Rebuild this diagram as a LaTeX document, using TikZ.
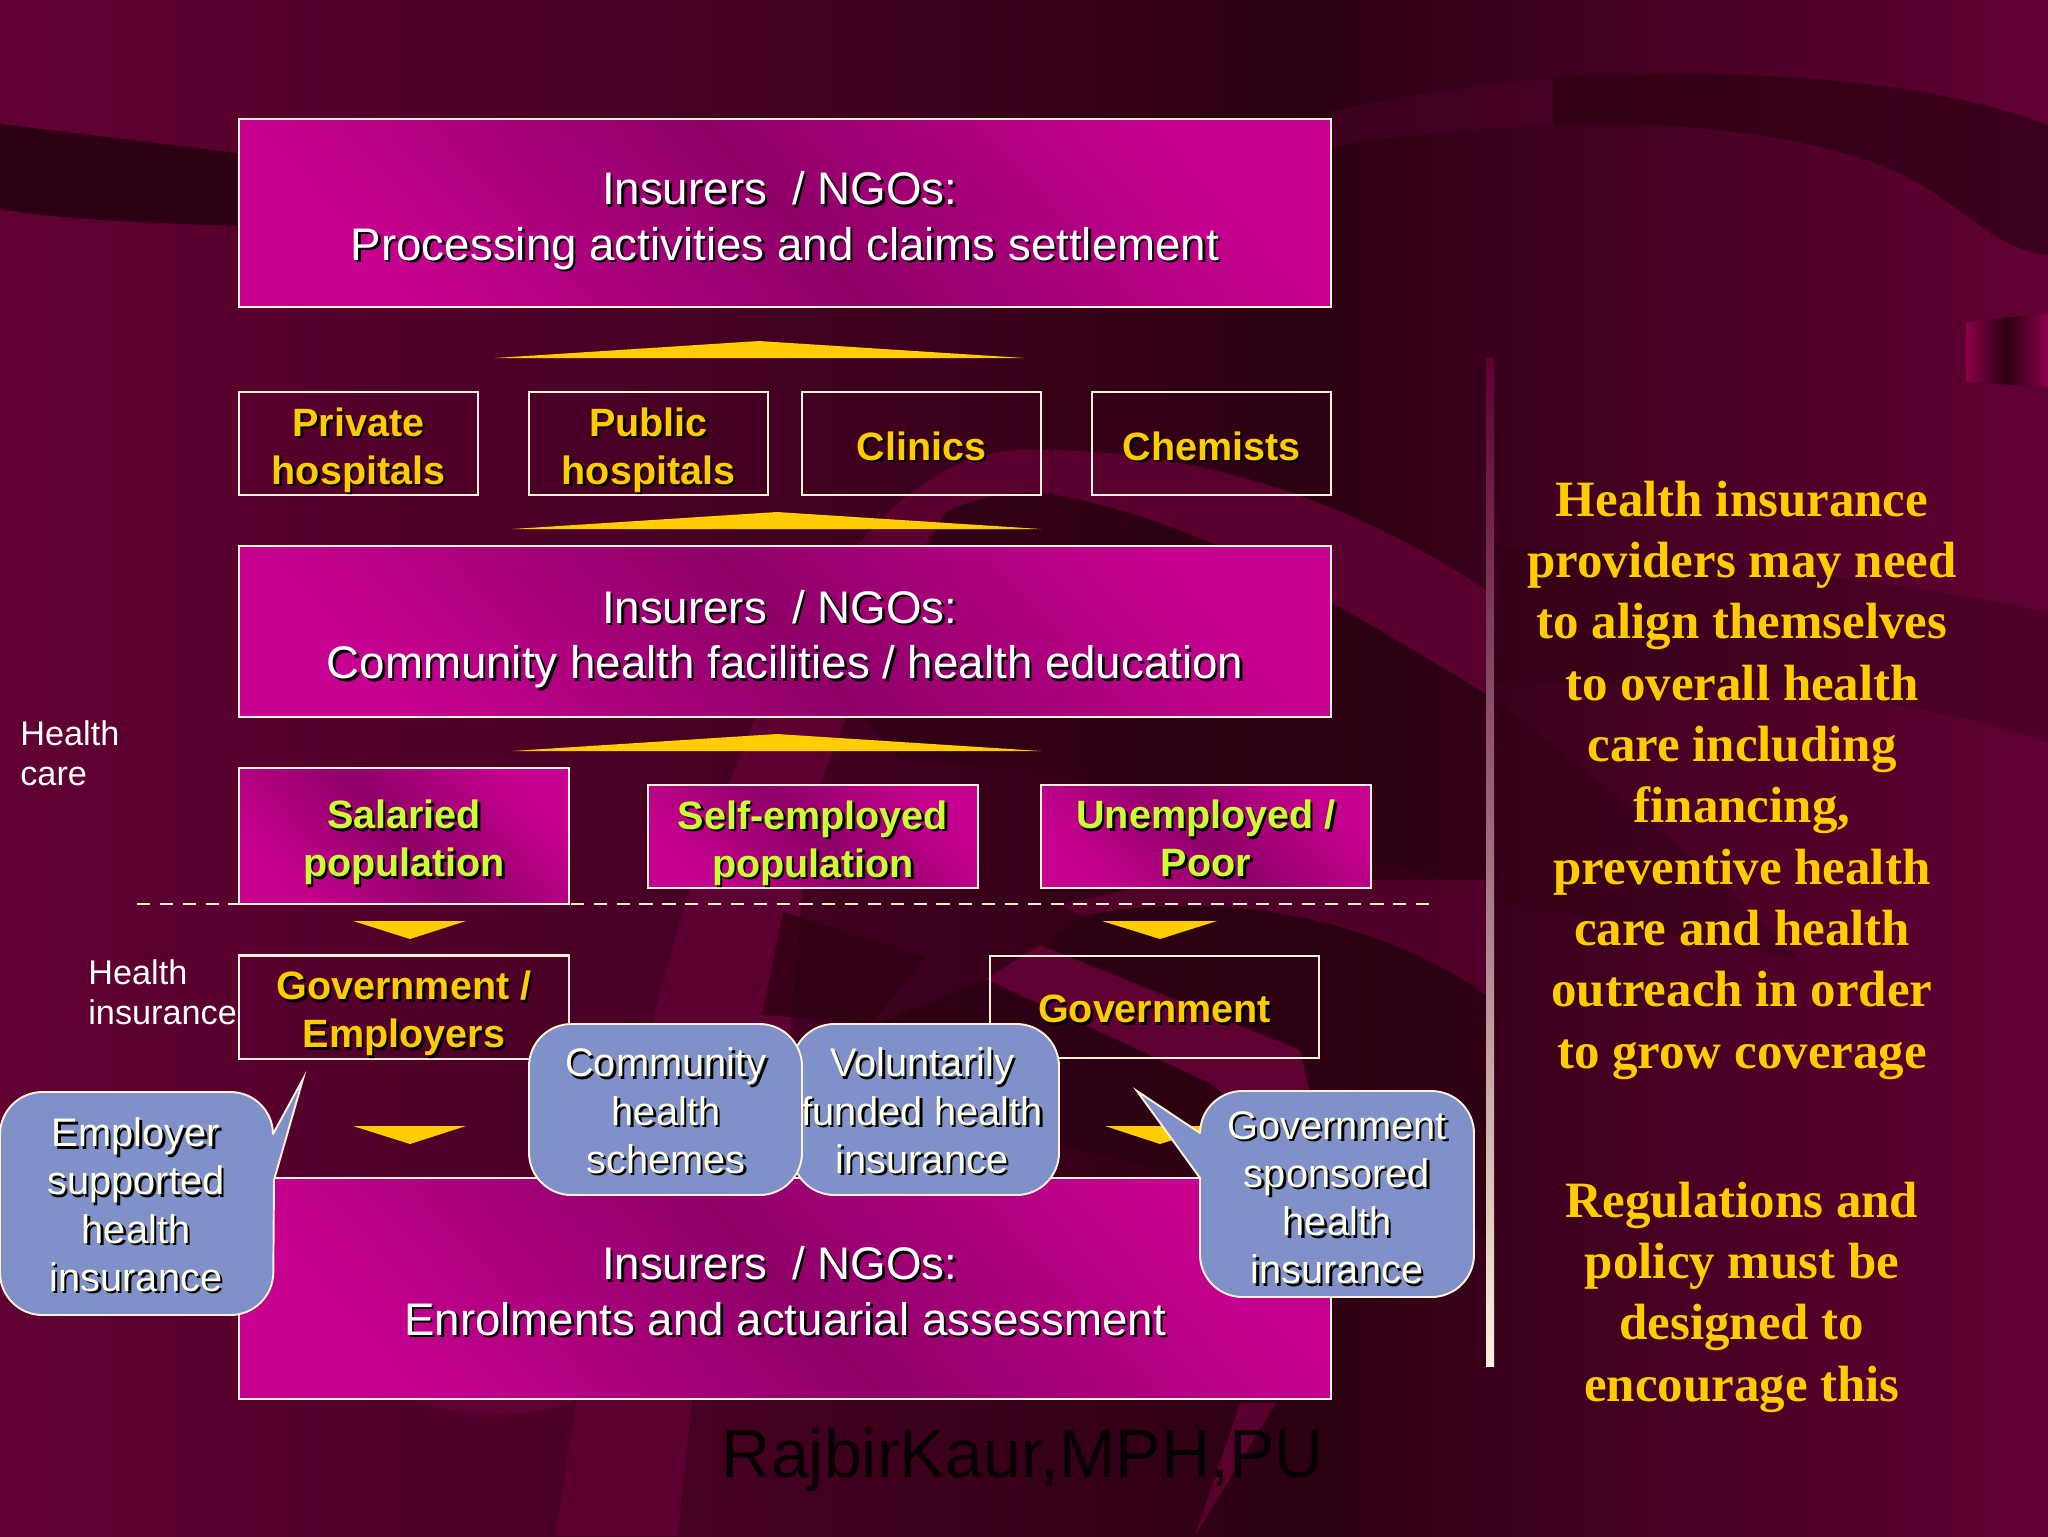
\documentclass[tikz,border=0pt]{standalone}
\usepackage{fontspec}
\setmainfont{Liberation Sans}
\newfontfamily\serifcol{Liberation Serif}
\usepackage{tikz}
\definecolor{bgred}{HTML}{620034}
\definecolor{bgdark}{HTML}{2C0012}
\definecolor{bandred}{HTML}{5E0032}
\definecolor{flagred}{HTML}{8A0048}
\definecolor{barmid}{HTML}{A07080}
\definecolor{boxbright}{HTML}{C6008F}
\definecolor{boxdark}{HTML}{8E0068}
\definecolor{edgecream}{HTML}{FFF2D8}
\definecolor{amber}{HTML}{FFCC00}
\definecolor{limegreen}{HTML}{CCFF33}
\definecolor{bubbleblue}{HTML}{8090C8}
\pgfdeclarehorizontalshading{slidebg}{100bp}{color(0bp)=(bgred); color(25bp)=(bgred); color(57bp)=(bgdark); color(75bp)=(bgred); color(100bp)=(bgred)}
\newcommand{\shtxt}[1]{\leavevmode\rlap{\kern1.4pt\raisebox{-1.4pt}{\color{black}#1}}#1}
\newcommand{\shfirst}[2][25.3pt]{\rule{0pt}{#1}\shtxt{#2}}
\tikzstyle{bigbox} = [draw=edgecream,line width=1.3pt,left color=boxbright,right color=boxbright,middle color=boxdark,shading angle=-48,minimum width=21.84cm,align=center,text=white,font=\fontsize{26}{31.8}\selectfont,inner sep=0pt]
\tikzstyle{popbox} = [bigbox,text=limegreen,font=\bfseries\fontsize{22.5}{27.4}\selectfont,minimum width=6.6cm]
\tikzstyle{darkbox} = [draw=edgecream,line width=1.3pt,align=center,text=amber,font=\bfseries\fontsize{22.5}{27.4}\selectfont,inner sep=0pt]
\tikzstyle{bubble} = [draw=edgecream,line width=1.1pt,fill=bubbleblue]
\tikzstyle{bubbletext} = [align=center,text=white!90!yellow,font=\fontsize{22.7}{27.4}\selectfont,inner sep=0pt]
\tikzstyle{sidelabel} = [align=left,text=white,font=\fontsize{19.5}{23}\selectfont,inner sep=0pt]
\tikzstyle{yellowtip} = [fill=amber]
\tikzstyle{sidetext} = [align=center,text=amber,font=\serifcol\bfseries\fontsize{29}{34.9}\selectfont,inner sep=0pt]

\begin{document}
\begin{tikzpicture}[x=0.02cm,y=-0.02cm]
	\useasboundingbox (0,0) rectangle (2048,1536);
	% background
	\shade[shading=slidebg] (0,0) rectangle (2048,1536);
	\fill[bgdark] (0,124)--(237,153)--(237,226) .. controls (120,222) and (50,218) .. (0,209)--cycle;
	\fill[bandred,opacity=.3] (1331,112) .. controls (1400,95) and (1480,85) .. (1553,78)--(1553,125) .. controls (1480,128) and (1400,135) .. (1331,147)--cycle;
	\fill[bgdark,opacity=.7] (1553,78) .. controls (1700,70) and (1900,70) .. (2048,125)--(2048,255) .. controls (1990,250) and (1950,190) .. (1880,165) .. controls (1800,135) and (1680,120) .. (1553,125)--cycle;
	\fill[bandred,opacity=.9] (556,1536)--(678,1536) .. controls (700,1300) and (730,1100) .. (790,1040) .. controls (800,900) and (810,800) .. (830,760) .. controls (860,680) and (900,580) .. (946,512) .. controls (980,495) and (1020,490) .. (1050,494) .. controls (1200,520) and (1331,600) .. (1486,694)--(1486,590) .. controls (1350,500) and (1200,450) .. (1040,450) .. controls (900,440) and (800,600) .. (730,780) .. controls (640,1000) and (590,1300) .. (556,1536)--cycle;
	\fill[bandred] (415,1399) .. controls (460,1420) and (530,1420) .. (578,1399)--cycle;
	\fill[bgdark,opacity=.6] (946,512) .. controls (980,495) and (1020,490) .. (1050,494) .. controls (1200,520) and (1331,600) .. (1486,694)--(1486,890)--(1041,770)--(900,760)--(850,700)--cycle;
	\fill[bandred,opacity=.7] (1060,905)--(1172,880)--(1486,880)--(1486,995) .. controls (1350,900) and (1180,895) .. (1082,916)--cycle;
	\fill[bgdark,opacity=.7] (1082,916) .. controls (1180,895) and (1350,900) .. (1486,995)--(1486,1240) .. controls (1420,1150) and (1350,1080) .. (1300,1060)--(1040,950)--cycle;
	\fill[bgdark,opacity=.7] (783,912)--(925,957)--(872,1023)--(762,1015)--cycle;
	\fill[bgdark,opacity=.8] (986,979)--(878,1023)--(860,1100)--(1200,1178)--(1210,1083)--cycle;
	\fill[bandred] (1040,945)--(1300,1050)--(1330,1180)--(1210,1083)--(986,979)--cycle;
	\fill[bandred,opacity=.9] (1240,1403)--(1276,1403)--(1195,1536)--cycle;
	\fill[bgdark,opacity=.35] (1494,545) .. controls (1700,560) and (1900,580) .. (2048,612)--(2048,743) .. controls (1900,690) and (1700,680) .. (1494,683)--cycle;
	\fill[bgdark,opacity=.35] (1494,700) .. controls (1600,780) and (1700,860) .. (1800,960)--(1494,900)--cycle;
	\node[font=\fontsize{38.8}{44}\selectfont,text=black,opacity=.85,inner sep=0pt] (credit) at (1023,1460) {RajbirKaur,MPH,PU};
	% side decoration
	\shade[top color=bandred,bottom color=edgecream,middle color=barmid] (1486,358) rectangle (1494,1366);
	\shade[left color=flagred,right color=flagred,middle color=bgdark] (1966,322)--(2048,313)--(2048,387)--(1966,382)--cycle;
	% dashed split
	\coordinate (splitL) at (137,904);
	\coordinate (splitR) at (1438,904);
	\draw[edgecream!85!pink,line width=.9pt,dash pattern=on 7.5pt off 5.5pt] (splitL)--(splitR);
	% yellow arrows
	\fill[yellowtip] (495,358)--(759,341)--(1024,358)--cycle;
	\fill[yellowtip] (512,529)--(777,512)--(1041,529)--cycle;
	\fill[yellowtip] (512,751)--(777,734)--(1041,751)--cycle;
	\fill[yellowtip] (353,921)--(466,921)--(410,939)--cycle;
	\fill[yellowtip] (1102,921)--(1217,921)--(1160,939)--cycle;
	\fill[yellowtip] (353,1126)--(466,1126)--(410,1144)--cycle;
	\fill[yellowtip] (1105,1126)--(1217,1126)--(1160,1144)--cycle;
	% boxes
	\node[bigbox,minimum height=3.76cm] (topinsurers) at (785,213) {\shfirst[29pt]{Insurers\ \ / NGOs:\kern6pt}\\\shtxt{Processing activities and claims settlement}};
	\node[darkbox,minimum width=4.78cm,minimum height=2.06cm] (private) at (358.5,443.5) {\shfirst{Private}\\\shtxt{hospitals}};
	\node[darkbox,minimum width=4.78cm,minimum height=2.06cm] (public) at (648.5,443.5) {\shfirst{Public}\\\shtxt{hospitals}};
	\node[darkbox,minimum width=4.78cm,minimum height=2.06cm] (clinics) at (921.5,443.5) {\shfirst[21pt]{Clinics}};
	\node[darkbox,minimum width=4.78cm,minimum height=2.06cm] (chemists) at (1211.5,443.5) {\shfirst[21pt]{Chemists}};
	\node[bigbox,minimum height=3.42cm] (midinsurers) at (785,631.5) {\shfirst[29pt]{Insurers\ \ / NGOs:\kern6pt}\\\shtxt{Community health facilities / health education}};
	\node[popbox,minimum height=2.72cm] (salaried) at (404,836) {\shfirst{Salaried}\\\shtxt{population}};
	\node[popbox,minimum height=2.06cm] (selfemp) at (813,836.5) {\shfirst{Self-employed}\\\shtxt{population}};
	\node[popbox,minimum height=2.06cm] (unemp) at (1206,836.5) {\shfirst[20pt]{Unemployed /}\\\shtxt{Poor}};
	\node[darkbox,minimum width=6.6cm,minimum height=2.04cm] (govemp) at (404,1007) {\shfirst{Government /}\\\shtxt{Employers}};
	\node[darkbox,minimum width=6.58cm,minimum height=2.04cm] (gov) at (1154.5,1007) {\shfirst[19.5pt]{Government}};
	\node[bigbox,minimum height=4.42cm] (lowinsurers) at (785,1288.5) {\shfirst[23.3pt]{Insurers\ \ / NGOs:\kern6pt}\\\shtxt{Enrolments and actuarial assessment}};
	% side labels
	\node[sidelabel,anchor=west] (carelabel) at (20,753) {Health\\care};
	\node[sidelabel,anchor=west] (inslabel) at (88,992) {Health\\insurance};
	% bubbles
	\draw[bubble] (792,1110) [rounded corners=.85cm] -- (792,1024) -- (1059,1024) -- (1059,1195) -- (792,1195) -- cycle;
	\draw[bubble] (529,1110) [rounded corners=.85cm] -- (529,1024) -- (802,1024) -- (802,1195) -- (529,1195) -- cycle;
	\draw[bubble] (273,1134) -- (303,1079) -- (274,1180) [rounded corners=.85cm] -- (273,1315) -- (0,1315) -- (0,1092) -- (273,1092) [sharp corners] -- cycle;
	\draw[bubble] (1200,1133) -- (1137,1091) -- (1200,1178) [rounded corners=.85cm] -- (1200,1297) -- (1474,1297) -- (1474,1091) -- (1200,1091) [sharp corners] -- cycle;
	\node[bubbletext] (communitytext) at (666,1112) {\shtxt{Community}\\\shtxt{health}\\\shtxt{schemes}};
	\node[bubbletext] (voluntarytext) at (922,1112) {\shtxt{Voluntarily}\\\shtxt{funded health}\\\shtxt{insurance}};
	\node[bubbletext] (employertext) at (136,1206) {\shtxt{Employer}\\\shtxt{supported}\\\shtxt{health}\\\shtxt{insurance}};
	\node[bubbletext] (sponsoredtext) at (1337,1199) {\shtxt{Government}\\\shtxt{sponsored}\\\shtxt{health}\\\shtxt{insurance}};
	% right column
	\node[sidetext] (rightupper) at (1742,780) {Health insurance\\providers may need\\to align themselves\\to overall health\\care including\\financing,\\preventive health\\care and health\\outreach in order\\to grow coverage};
	\node[sidetext] (rightlower) at (1742,1297) {Regulations and\\policy must be\\designed to\\encourage this};
\end{tikzpicture}
\end{document}
